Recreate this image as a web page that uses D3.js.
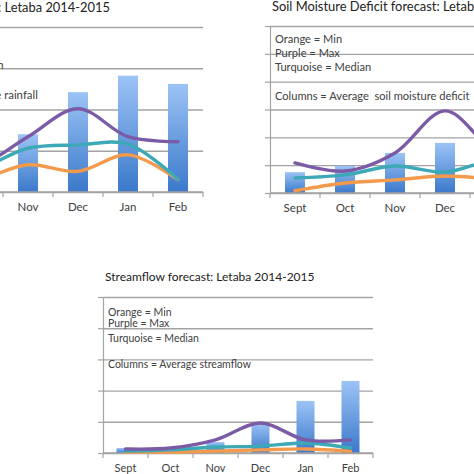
<!DOCTYPE html>
<html>
<head>
<meta charset="utf-8">
<script src="https://cdn.jsdelivr.net/npm/d3@7"></script>
<style>
  html, body { margin: 0; padding: 0; background: #fff; }
  svg { display: block; }
</style>
</head>
<body>
<div class="chart"></div>
<script>
// ======================================
// Data
// ======================================
var months = ['Sept', 'Oct', 'Nov', 'Dec', 'Jan', 'Feb'];

// rainfall (mm)
var rainAvg    = [30, 45, 70, 121, 141, 131];
var rainMin    = [12, 15, 33, 25, 45, 15];
var rainMax    = [25, 31, 67, 101, 67, 61];
var rainMedian = [24, 28, 53, 57, 58, 15];
var rainTicks  = [0, 50, 100, 150, 200];

// soil moisture deficit
var smdAvg    = [7.5, 9.7, 14.4, 18.0, 22, 25];
var smdMin    = [0.8, 3.6, 4.7, 6.1, 5.0, 4.5];
var smdMax    = [10.8, 7.9, 14.4, 29.5, 15.5, 14];
var smdMedian = [5.4, 6.5, 9.7, 7.5, 11.9, 11];
var smdTicks  = [0, 10, 20, 30, 40, 50, 60];

// streamflow
var flowAvg    = [1.6, 0.6, 3.5, 9.6, 16.7, 23.1];
var flowMin    = [0.3, 0.3, 0.6, 1.0, 1.3, 0.6];
var flowMax    = [1.3, 1.6, 4.2, 9.6, 4.2, 4.2];
var flowMedian = [0.6, 1.0, 1.9, 2.2, 3.2, 1.6];
var flowTicks  = [0, 10, 20, 30, 40, 50];

var legendLines = ['Orange = Min', 'Purple = Max', 'Turquoise = Median'];

// ======================================
// Svg setup
// ======================================
var W = 474, H = 474;
var font = 'Lato, "Open Sans", sans-serif';
var colors = { min: '#f39a4c', max: '#7b5ba6', median: '#3ea9b6', grid: '#a3a3a3', text: '#404040' };

var svg = d3.select('.chart')
   .append('svg')
   .attr('width', W)
   .attr('height', H)
   ;

var defs = svg.append('defs');
var grad = defs.append('linearGradient')
   .attr('id', 'barGrad')
   .attr('x1', 0).attr('y1', 0)
   .attr('x2', 0).attr('y2', 1)
   ;
grad.append('stop').attr('offset', '0%').attr('stop-color', '#9cc3f5');
grad.append('stop').attr('offset', '100%').attr('stop-color', '#3b79cb');

// ======================================
// One panel: columns + three smooth lines
// ======================================
function drawPanel(p){
   var g = svg.append('g');

   var x = d3.scaleBand()
      .domain(months)
      .range([p.left, p.right])
      ;
   var y = d3.scaleLinear()
      .domain([0, d3.max(p.ticks)])
      .range([p.bottom, p.top])
      ;

   // gridlines
   g.append('g')
      .attr('transform', 'translate(' + p.left + ',0)')
      .call(d3.axisLeft(y).tickValues(p.ticks).tickSize(-(p.right - p.left)).tickFormat(''))
      .call(function(a){
         a.select('.domain').remove();
         a.selectAll('line').attr('stroke', colors.grid).attr('stroke-width', 1.4);
      });

   // left axis with small ticks
   g.append('g')
      .attr('transform', 'translate(' + p.left + ',0)')
      .call(d3.axisLeft(y).tickValues(p.ticks).tickSize(5).tickSizeOuter(0).tickFormat(''))
      .call(function(a){
         a.selectAll('line, path').attr('stroke', colors.grid).attr('stroke-width', 1.2);
      });

   // columns
   g.selectAll('rect.bar')
      .data(p.avg)
      .enter()
      .append('rect')
         .attr('class', 'bar')
         .attr('x', function(d, i){ return x(months[i]) + (x.bandwidth() - p.barW) / 2; })
         .attr('width', p.barW)
         .attr('y', function(d){ return y(d); })
         .attr('height', function(d){ return y(0) - y(d); })
         .attr('fill', 'url(#barGrad)')
         ;

   // x axis line + boundary ticks
   var xa = g.append('g');
   xa.append('line')
      .attr('x1', p.left).attr('x2', p.right)
      .attr('y1', y(0)).attr('y2', y(0))
      .attr('stroke', colors.grid).attr('stroke-width', 1.4);
   xa.selectAll('line.tk')
      .data(d3.range(months.length + 1))
      .enter()
      .append('line')
         .attr('class', 'tk')
         .attr('x1', function(i){ return p.left + i * x.step(); })
         .attr('x2', function(i){ return p.left + i * x.step(); })
         .attr('y1', y(0)).attr('y2', y(0) + 5)
         .attr('stroke', colors.grid).attr('stroke-width', 1.2);
   xa.selectAll('text')
      .data(months)
      .enter()
      .append('text')
         .text(function(d){ return d; })
         .attr('x', function(d){ return x(d) + x.bandwidth() / 2; })
         .attr('y', y(0) + 19)
         .attr('text-anchor', 'middle')
         .attr('font-family', font)
         .attr('font-size', p.tickSize)
         .attr('fill', colors.text)
         ;

   // smooth lines
   var line = d3.line()
      .x(function(d, i){ return x(months[i]) + x.bandwidth() / 2; })
      .y(function(d){ return y(d); })
      .curve(d3.curveCatmullRom.alpha(0.5))
      ;
   [[p.min, colors.min], [p.median, colors.median], [p.max, colors.max]].forEach(function(s){
      g.append('path')
         .attr('d', line(s[0]))
         .attr('fill', 'none')
         .attr('stroke', s[1])
         .attr('stroke-width', 3.4)
         .attr('stroke-linecap', 'round')
         ;
   });

   // title
   g.append('text')
      .text(p.title)
      .attr('x', p.titleX)
      .attr('y', p.titleY)
      .attr('text-anchor', p.titleAnchor)
      .attr('font-family', font)
      .attr('font-size', p.titleSize)
      .attr('fill', '#222')
      ;

   // legend notes
   g.selectAll('text.note')
      .data(legendLines.concat([p.columns]))
      .enter()
      .append('text')
         .attr('class', 'note')
         .text(function(d){ return d; })
         .attr('x', p.left + p.noteDx)
         .attr('y', function(d, i){ return p.noteY[i]; })
         .attr('font-family', font)
         .attr('font-size', p.noteSize)
         .attr('fill', colors.text)
         .style('white-space', 'pre')
         ;
}

// ======================================
// The three panels
// ======================================
drawPanel({
   title: 'Rainfall forecast: Letaba 2014-2015',
   columns: 'Columns = Average rainfall',
   avg: rainAvg, min: rainMin, max: rainMax, median: rainMedian, ticks: rainTicks,
   left: -97, right: 203, top: 27, bottom: 192, barW: 20,
   titleX: 110, titleAnchor: 'end', titleY: 12, titleSize: '12.9px',
   noteDx: 2, noteY: [40, 54, 69, 99], noteSize: '11.4px', tickSize: '11.5px'
});

drawPanel({
   title: 'Soil Moisture Deficit forecast: Letaba 2014-2015',
   columns: 'Columns = Average  soil moisture deficit',
   avg: smdAvg, min: smdMin, max: smdMax, median: smdMedian, ticks: smdTicks,
   left: 270, right: 570, top: 26, bottom: 193, barW: 20,
   titleX: 272, titleAnchor: 'start', titleY: 11, titleSize: '12.9px',
   noteDx: 5, noteY: [43, 57, 71, 100], noteSize: '11.1px', tickSize: '11.5px'
});

drawPanel({
   title: 'Streamflow forecast: Letaba 2014-2015',
   columns: 'Columns = Average streamflow',
   avg: flowAvg, min: flowMin, max: flowMax, median: flowMedian, ticks: flowTicks,
   left: 103, right: 373, top: 297, bottom: 453, barW: 18,
   titleX: 105, titleAnchor: 'start', titleY: 281, titleSize: '12px',
   noteDx: 5, noteY: [316, 327, 342, 368], noteSize: '10.5px', tickSize: '11px'
});
</script>
</body>
</html>
